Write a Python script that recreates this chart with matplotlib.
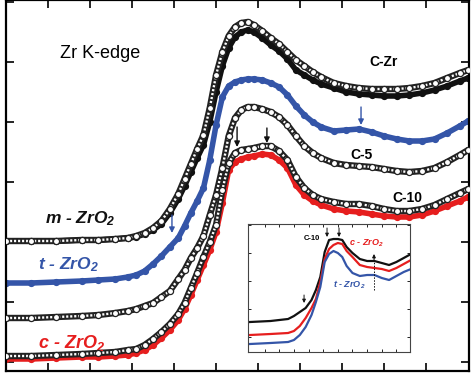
import numpy as np
import matplotlib
matplotlib.use('Agg')
import matplotlib.pyplot as plt

plt.rcParams['font.family'] = ['Liberation Sans', 'DejaVu Sans']
plt.rcParams['mathtext.default'] = 'regular'

# energy grid (eV) shared by the main spectra
energy = [17970, 17976, 17982, 17988, 17992, 17996, 17999, 18001, 18003, 18005,
          18007, 18009, 18011, 18012.5, 18014, 18015.5, 18017, 18018.5, 18020, 18021.5,
          18023, 18024.5, 18026, 18027.5, 18029, 18031, 18033, 18035, 18037, 18039,
          18041, 18043, 18045, 18048, 18051, 18054, 18057, 18060, 18063, 18066,
          18069, 18072, 18075, 18078, 18080]

# normalized absorption, stacked with offsets
c_zr = [1.31, 1.31, 1.31, 1.32, 1.32, 1.33, 1.34, 1.36, 1.39, 1.44, 1.51, 1.63,
        1.78, 1.93, 2.08, 2.23, 2.37, 2.64, 2.97, 3.20, 3.36, 3.45, 3.49, 3.50,
        3.47, 3.41, 3.34, 3.28, 3.20, 3.12, 3.06, 3.00, 2.95, 2.89, 2.86, 2.84,
        2.83, 2.83, 2.83, 2.84, 2.86, 2.89, 2.94, 2.99, 3.02]
m_zro2 = [1.31, 1.31, 1.31, 1.32, 1.32, 1.33, 1.34, 1.35, 1.38, 1.42, 1.48, 1.59,
          1.73, 1.86, 2.00, 2.14, 2.27, 2.50, 2.80, 3.06, 3.24, 3.35, 3.40, 3.42,
          3.40, 3.34, 3.27, 3.21, 3.13, 3.02, 2.97, 2.92, 2.88, 2.84, 2.80, 2.78,
          2.77, 2.76, 2.76, 2.77, 2.79, 2.82, 2.86, 2.91, 2.94]
t_zro2 = [0.89, 0.89, 0.90, 0.91, 0.92, 0.93, 0.95, 0.97, 1.01, 1.08, 1.16, 1.25,
          1.34, 1.46, 1.59, 1.71, 1.84, 2.12, 2.47, 2.75, 2.86, 2.90, 2.92, 2.93,
          2.93, 2.92, 2.89, 2.85, 2.77, 2.66, 2.57, 2.50, 2.45, 2.41, 2.42, 2.43,
          2.40, 2.36, 2.33, 2.31, 2.31, 2.33, 2.39, 2.46, 2.51]
c_5 = [0.54, 0.54, 0.55, 0.56, 0.57, 0.59, 0.61, 0.63, 0.66, 0.69, 0.75, 0.81,
       0.93, 1.02, 1.14, 1.24, 1.36, 1.57, 1.77, 2.04, 2.36, 2.54, 2.62, 2.65,
       2.65, 2.63, 2.60, 2.55, 2.47, 2.36, 2.26, 2.19, 2.14, 2.09, 2.07, 2.06,
       2.05, 2.03, 2.01, 2.00, 2.01, 2.04, 2.10, 2.17, 2.22]
c_10 = [0.16, 0.16, 0.17, 0.18, 0.19, 0.20, 0.22, 0.23, 0.27, 0.33, 0.40, 0.48,
        0.58, 0.69, 0.84, 0.99, 1.15, 1.30, 1.47, 1.82, 2.09, 2.19, 2.22, 2.23,
        2.24, 2.26, 2.26, 2.21, 2.12, 1.95, 1.84, 1.77, 1.73, 1.70, 1.68, 1.68,
        1.66, 1.63, 1.61, 1.61, 1.63, 1.67, 1.73, 1.79, 1.83]
c_zro2 = [0.13, 0.13, 0.14, 0.15, 0.15, 0.16, 0.17, 0.19, 0.22, 0.27, 0.34, 0.42,
          0.52, 0.63, 0.77, 0.92, 1.07, 1.22, 1.40, 1.69, 2.02, 2.10, 2.13, 2.15,
          2.16, 2.18, 2.17, 2.12, 2.04, 1.87, 1.77, 1.71, 1.67, 1.63, 1.61, 1.60,
          1.58, 1.56, 1.55, 1.55, 1.57, 1.61, 1.66, 1.71, 1.75]

# inset spectra
inset_energy = [17970, 17984, 17996, 18000, 18004, 18008, 18012, 18015, 18018, 18021,
                18024, 18027, 18030, 18033, 18036, 18040, 18045, 18050, 18055, 18060,
                18065, 18070, 18075, 18080]
inset_c10 = [0.31, 0.32, 0.34, 0.37, 0.41, 0.45, 0.53, 0.63, 0.76, 1.01, 1.13, 1.14,
             1.14, 1.13, 1.06, 1.00, 0.94, 0.92, 0.92, 0.90, 0.88, 0.91, 0.95, 0.99]
inset_czro2 = [0.18, 0.19, 0.20, 0.22, 0.27, 0.35, 0.45, 0.54, 0.71, 0.94, 1.04, 1.08,
               1.10, 1.09, 1.02, 0.96, 0.88, 0.86, 0.85, 0.84, 0.82, 0.85, 0.89, 0.93]
inset_tzro2 = [0.09, 0.10, 0.11, 0.13, 0.18, 0.26, 0.38, 0.51, 0.66, 0.91, 0.99, 1.02,
               1.00, 0.96, 0.87, 0.80, 0.77, 0.78, 0.78, 0.75, 0.73, 0.77, 0.81, 0.84]

BLACK = '#111111'
BLUE = '#3455a8'
RED = '#e61e1e'


def filled(ax, y, color):
    ax.plot(energy, y, '-', color=color, lw=4.0, solid_capstyle='round', zorder=2)
    ax.plot(energy, y, 'o', color=color, ms=4.2, zorder=2)


def hollow(ax, y):
    ax.plot(energy, y, '-', color='#222222', lw=4.6, solid_capstyle='round', zorder=3)
    ax.plot(energy, y, '-', color='white', lw=1.7, dashes=(0.9, 0.8), zorder=3)
    ax.plot(energy, y, 'o', ms=4.4, mfc='white', mec='#222222', mew=0.9, zorder=4)


def arrow(ax, x, y0, y1, color, lw=1.0, ms=8):
    ax.annotate('', xy=(x, y1), xytext=(x, y0),
                arrowprops=dict(arrowstyle='-|>', color=color, lw=lw,
                                mutation_scale=ms, shrinkA=0, shrinkB=0))


fig = plt.figure(figsize=(4.74, 3.74), dpi=100)
ax = fig.add_axes([6 / 474, 3 / 374, 463 / 474, 371 / 374])

filled(ax, m_zro2, BLACK)
hollow(ax, c_zr)
filled(ax, t_zro2, BLUE)
hollow(ax, c_5)
filled(ax, c_zro2, RED)
hollow(ax, c_10)

ax.set_xlim(17970, 18080.2)
ax.set_ylim(0.01, 3.72)
ax.set_xticks(np.arange(17980, 18080, 10))
ax.set_yticks(np.arange(0.1, 3.8, 0.6))
ax.tick_params(direction='in', length=6, width=1.2, top=True, right=True,
               labelbottom=False, labelleft=False)
for s in ax.spines.values():
    s.set_linewidth(1.6)

# labels
ax.text(17982.9, 3.19, 'Zr K-edge', fontsize=13, va='center', ha='left')
ax.text(18056.4, 3.10, 'C-Zr', fontsize=10, fontweight='bold', va='center')
ax.text(18051.9, 2.17, 'C-5', fontsize=10, fontweight='bold', va='center')
ax.text(18061.9, 1.74, 'C-10', fontsize=10, fontweight='bold', va='center')
ax.text(17979.3, 1.49, 'm - ZrO$_2$', fontsize=12.5, fontweight='bold',
        style='italic', color=BLACK, va='baseline')
ax.text(17977.6, 1.03, 't - ZrO$_2$', fontsize=12.5, fontweight='bold',
        style='italic', color=BLUE, va='baseline')
ax.text(17977.6, 0.24, 'c - ZrO$_2$', fontsize=13, fontweight='bold',
        style='italic', color=RED, va='baseline')

# arrows
arrow(ax, 18025.0, 2.45, 2.25, BLACK)
arrow(ax, 18032.1, 2.44, 2.29, BLACK)
arrow(ax, 18009.5, 1.57, 1.39, BLUE)
arrow(ax, 18054.5, 2.65, 2.47, BLUE)

# inset
axin = fig.add_axes([248 / 474, 22 / 374, 162 / 474, 128 / 374])
axin.plot(inset_energy, inset_c10, color=BLACK, lw=1.6)
axin.plot(inset_energy, inset_czro2, color=RED, lw=1.6)
axin.plot(inset_energy, inset_tzro2, color=BLUE, lw=1.6)
axin.set_xlim(17968.6, 18079.3)
axin.set_ylim(0.01, 1.29)
axin.set_xticks(np.arange(17980, 18080, 10))
axin.set_yticks(np.arange(0.16, 1.3, 0.28))
axin.tick_params(direction='in', length=2.5, width=0.6, top=True, right=True,
                 labelbottom=False, labelleft=False)
for s in axin.spines.values():
    s.set_linewidth(0.8)
    s.set_color('#444444')

axin.text(18006.9, 1.14, 'C-10', fontsize=5.5, fontweight='bold', va='center')
axin.text(18037.6, 1.10, 'c - ZrO$_2$', fontsize=6.5, fontweight='bold',
          style='italic', color=RED, va='center')
axin.text(18026.7, 0.68, 't - ZrO$_2$', fontsize=6.5, fontweight='bold',
          style='italic', color=BLUE, va='center')
arrow(axin, 18006.9, 0.58, 0.50, BLACK, lw=0.7, ms=5)
arrow(axin, 18022.6, 1.25, 1.16, BLACK, lw=0.7, ms=5)
arrow(axin, 18030.8, 1.25, 1.16, BLACK, lw=0.7, ms=5)
axin.plot([18054.7, 18054.7], [0.63, 0.98], color=BLACK, lw=0.7, ls=(0, (1.5, 1.5)))
arrow(axin, 18054.7, 0.93, 0.99, BLACK, lw=0.7, ms=5)

fig.savefig('out.png', dpi=100)
plt.close(fig)
